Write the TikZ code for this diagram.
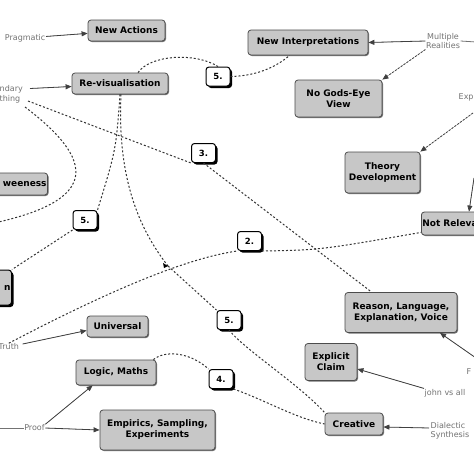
\documentclass[tikz,border=0pt]{standalone}
\usepackage{fontspec}
\setmainfont{DejaVu Sans}
\usetikzlibrary{arrows.meta,shadows,calc}
\begin{document}
\begin{tikzpicture}[x=1pt,y=-1pt,
  box/.style={draw=black!70, fill=black!22, line width=0.8pt, rounded corners=3pt,
    font=\bfseries\fontsize{9}{11}\selectfont, align=center, inner sep=1pt,
    drop shadow={shadow xshift=1pt,shadow yshift=-1pt,fill=black!55,opacity=1}},
  badge/.style={draw=black, fill=white, line width=1pt, rounded corners=3pt,
    font=\bfseries\fontsize{8.5}{9}\selectfont, minimum width=24pt, minimum height=19pt, inner sep=0pt,
    drop shadow={shadow xshift=2pt,shadow yshift=-2pt,fill=black,opacity=1}},
  lbl/.style={text=black!55, font=\fontsize{8}{9.5}\selectfont, inner sep=0.5pt, align=center},
  arr/.style={-{Triangle[length=6pt,width=5pt]}, line width=0.8pt, draw=black!75, fill=black},
  darr/.style={arr, dash pattern=on 2pt off 1.5pt},
  plainline/.style={line width=0.8pt, draw=black!55},
  dotline/.style={line width=1pt, draw=black!80, dash pattern=on 2pt off 2pt},
]
\useasboundingbox (0,0) rectangle (474,474);
\fill[white] (0,0) rectangle (474,474);
\clip (0,0) rectangle (474,474);

% boxes
\node[box, minimum width=77pt, minimum height=21pt] (newact) at (126.5,30.5) {New Actions};
\node[box, minimum width=96pt, minimum height=21pt] (revis) at (120,83.5) {Re-visualisation};
\node[box, minimum width=120pt, minimum height=25pt] (newint) at (308,42.5) {New Interpretations};
\node[box, minimum width=87pt, minimum height=37pt] (nogods) at (338.5,98.5) {No Gods-Eye\\View};
\node[box, minimum width=75pt, minimum height=41pt] (theory) at (382.5,172.5) {Theory\\Development};
\node[box, anchor=west, minimum height=23pt, text width=76pt, align=left] (notrel) at (421,223.5) {Not Relevant};
\node[box, anchor=east, minimum height=22pt, text width=70pt, align=right] (weeness) at (48,184) {weeness};
\node[box, draw=black, line width=1pt, anchor=east, minimum height=35pt, text width=40pt, align=right,
  drop shadow={shadow xshift=2pt,shadow yshift=-2pt,fill=black,opacity=1}] (nbox) at (12,287.5) {n};
\node[box, minimum width=61pt, minimum height=21pt] (universal) at (117.5,326.5) {Universal};
\node[box, minimum width=80pt, minimum height=25pt] (logic) at (116,372.5) {Logic, Maths};
\node[box, minimum width=115pt, minimum height=40pt] (empirics) at (157.5,430) {Empirics, Sampling,\\Experiments};
\node[box, minimum width=112pt, minimum height=40pt] (reason) at (401,312.5) {Reason, Language,\\Explanation, Voice};
\node[box, minimum width=52pt, minimum height=37pt] (explicit) at (331,362) {Explicit\\Claim};
\node[box, minimum width=58pt, minimum height=22pt] (creative) at (354,424) {Creative};

% badges
\node[badge] (b5a) at (218,76.5) {5.};
\node[badge] (b3) at (203.5,153) {3.};
\node[badge] (b2) at (249.5,241) {2.};
\node[badge] (b5b) at (229,320) {5.};
\node[badge] (b4) at (221,379) {4.};
\node[badge] (b5c) at (85,220) {5.};

% labels
\node[lbl, anchor=east] (prag) at (46,38) {Pragmatic};
\node[lbl, anchor=west, align=left] (bound) at (-1,94.5) {ndary\\thing};
\node[lbl] (multi) at (443,41) {Multiple\\Realities};
\node[lbl, anchor=west] (expl) at (458,97) {Exp};
\node[lbl, anchor=west] (flbl) at (466,372) {F};
\node[lbl, anchor=west] (john) at (424,393) {john vs all};
\node[lbl, anchor=west, align=left] (dial) at (430,431) {Dialectic\\Synthesis};
\node[lbl, anchor=west] (truth) at (-2,347) {Truth};
\node[lbl] (proof) at (34.5,428) {Proof};

% free ends
\coordinate (bnd) at (30,88.5);
\coordinate (edgeR) at (476,42);
\coordinate (expc) at (473,113);
\coordinate (nrtop) at (474,178);
\coordinate (fc) at (476,358);
\coordinate (pl) at (-2,428);
\coordinate (th1) at (28,101);
\coordinate (th2) at (25,107);
\coordinate (offL) at (-6,223);
\coordinate (jn) at (168,266);

% solid arrows
\draw[arr] (prag) -- (newact);
\draw[arr] (bnd) -- ($(revis.west)+(0,3)$);
\draw[arr] (multi.west) -- (newint.east);
\draw[plainline] (multi.east) -- (edgeR);
\draw[darr] (multi.south west) -- (nogods.north east);
\draw[darr] (expc) -- (theory.north east);
\draw[arr] (nrtop) -- ($(notrel.north west)+(48,0)$);
\draw[arr] (fc) -- ($(reason.south)+(39,0)$);
\draw[arr] (john.north west) -- ($(explicit.east)+(0,7)$);
\draw[arr] ($(dial.west)+(-1,-3)$) -- ($(creative.east)+(0,3)$);
\draw[arr] ($(truth.east)+(3,-3)$) -- ($(universal.west)+(0,4)$);
\draw[plainline] (pl) -- (proof.west);
\draw[arr] (proof.east) -- (empirics.west);
\draw[arr] (proof.north east) -- ($(logic.south west)+(17,0)$);

% dotted paths
\draw[dotline] ($(revis.north)+(18,0)$) .. controls (150,55) and (195,52) .. (b5a.north);
\draw[dotline] (b5a.east) .. controls (255,76) and (275,68) .. ($(newint.south west)+(42,0)$);
\draw[dotline] (th1) -- (b3.south west);
\draw[dotline] (b3.south) -- ($(reason.north west)+(27,0)$);
\draw[dotline] (th2) .. controls (95,160) and (100,200) .. (offL);
\draw[dotline] (revis.south) .. controls (116,150) .. (b5c.north east);
\draw[dotline] (b5c.south west) -- (nbox.north east);
\draw[dotline] ($(revis.south)+(1,0)$) .. controls (117,180) and (140,230) .. (jn);
\fill[black] (jn) -- ++(-5,-3) -- ++(1,5) -- cycle;
\draw[dotline] (jn) -- (b5b.north west);
\draw[dotline] (b5b.south) .. controls (245,350) and (300,385) .. (creative.north west);
\draw[dotline] (truth.north) .. controls (120,285) and (190,258) .. (b2.south west);
\draw[dotline] (b2.south east) .. controls (320,250) .. ($(notrel.south west)+(0,-3)$);
\draw[dotline] ($(logic.north east)+(-3,0)$) .. controls (165,350) and (190,352) .. (b4.north west);
\draw[dotline] (b4.south east) .. controls (265,400) and (295,418) .. (creative.west);
\end{tikzpicture}
\end{document}
